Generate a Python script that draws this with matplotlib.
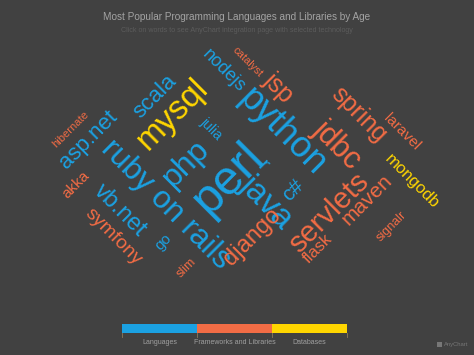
import matplotlib.pyplot as plt
import matplotlib.patches as mpatches

plt.rcParams["font.family"] = ["Liberation Sans", "DejaVu Sans"]

# ---- data: word, category, weight ----
words = ["perl", "python", "ruby on rails", "java", "php", "asp.net", "scala",
         "vb.net", "nodejs", "julia", "r", "c#", "go",
         "jsp", "spring", "jdbc", "servlets", "django", "symfony", "maven",
         "laravel", "flask", "signalr", "akka", "hibernate", "catalyst", "slim",
         "mysql", "mongodb"]
categories = ["Languages"] * 13 + ["Frameworks and Libraries"] * 14 + ["Databases"] * 2
weights = [35, 26, 22.5, 24, 23, 16, 16,
           17, 13, 10, 15, 15, 11,
           18, 18, 22, 21, 17, 14, 15,
           11, 12, 9, 11, 8, 8, 9,
           24, 12]

legend_names = ["Languages", "Frameworks and Libraries", "Databases"]
legend_colors = ["#1ba1e2", "#f26c45", "#ffd600"]

# ---- layout of the cloud (pixel coords, angle) ----
layout = [(229, 178, 45), (282, 132, -45), (166, 204, -45), (266, 203, -45),
          (186, 164, 45), (88, 140, 45), (155, 97, 45),
          (120, 211, -45), (224, 71, -45), (211, 129, -45), (263, 166, -45),
          (293, 190, 45), (163, 242, 45),
          (278, 88, -45), (359, 115, -45), (337, 145, -45), (329, 213, 45),
          (252, 237, 45), (113, 237, -45), (367, 200, 45),
          (402, 132, -45), (318, 249, 45), (392, 227, 45), (76, 185, 45),
          (71, 129, 45), (247, 62, -45), (186, 268, 45),
          (173, 114, 45), (412, 181, -45)]

bg = "#414141"
W, H = 474, 355
fig = plt.figure(figsize=(W / 100, H / 100), dpi=100, facecolor=bg)
ax = fig.add_axes([0, 0, 1, 1])
ax.set_facecolor(bg)
ax.set_xlim(0, W)
ax.set_ylim(H, 0)
ax.axis("off")

color_of = dict(zip(legend_names, legend_colors))
for word, cat, wgt, (x, y, ang) in zip(words, categories, weights, layout):
    ax.text(x, y, word, color=color_of[cat], fontsize=wgt, rotation=ang,
            ha="center", va="center", rotation_mode="anchor")

# title and subtitle
ax.text(W / 2, 17, "Most Popular Programming Languages and Libraries by Age",
        color="#a3a3a3", fontsize=7.2, ha="center", va="center")
ax.text(W / 2, 30, "Click on words to see AnyChart integration page with selected technology",
        color="#5c5c5c", fontsize=5.1, ha="center", va="center")

# color range legend
x0, seg, y0, bh = 122, 75, 324, 9
for i, (name, col) in enumerate(zip(legend_names, legend_colors)):
    ax.add_patch(mpatches.Rectangle((x0 + i * seg, y0), seg, bh, color=col, lw=0))
    ax.text(x0 + i * seg + seg / 2, 343, name, color="#a0a0a0", fontsize=5.0,
            ha="center", va="center")
for i in range(4):
    ax.plot([x0 + i * seg] * 2, [y0 + bh, y0 + bh + 4], color="#8a7a5a", lw=0.6)

# credits
ax.add_patch(mpatches.Rectangle((437, 342), 5, 5, color="#777777", lw=0))
ax.text(444, 344.5, "AnyChart", color="#777777", fontsize=4.2, ha="left", va="center")

fig.savefig("out.png", dpi=100, facecolor=bg)
